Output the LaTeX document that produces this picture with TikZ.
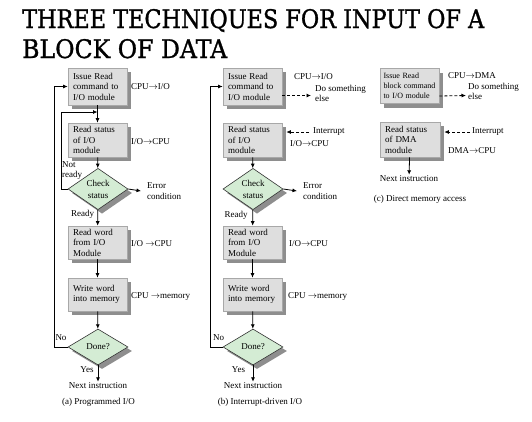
\documentclass[tikz,border=0pt]{standalone}
\usepackage{fontspec}
\setmainfont{Liberation Serif}
\newfontfamily\titlefont[FakeBold=1.2]{DejaVu Serif}
\usetikzlibrary{shapes.geometric,arrows.meta,shadows}
\definecolor{boxfill}{HTML}{DEDEDE}
\definecolor{boxline}{HTML}{A8A8A8}
\definecolor{shadowc}{HTML}{8E8E8E}
\definecolor{decfill}{HTML}{D4ECD4}
\newcommand{\toarr}{\(\rightarrow\)}
\tikzset{
  shd/.style={drop shadow={shadow xshift=4pt, shadow yshift=-4pt, fill=shadowc, opacity=1}},
  box/.style={shd, draw=boxline, fill=boxfill, line width=0.6pt, minimum width=59pt,
    minimum height=35pt, text width=49pt, inner xsep=5pt, inner ysep=2pt, align=left,
    font=\fontsize{9}{10.5}\selectfont},
  smallbox/.style={box, text width=52pt, inner xsep=3.5pt, font=\fontsize{8}{10}\selectfont},
  dec/.style={shd, diamond, draw=black!80, fill=decfill, line width=0.6pt, inner sep=0pt,
    minimum width=60pt, minimum height=40pt, align=center, font=\fontsize{9}{12}\selectfont},
  lbl/.style={inner sep=0pt, align=left, font=\fontsize{9}{10.5}\selectfont},
  arr/.style={line width=0.8pt, -{Latex[length=4.5pt,width=4pt]}},
  darr/.style={arr, dash pattern=on 3pt off 2pt},
}
\begin{document}
\begin{tikzpicture}[x=1pt,y=-1pt]
\useasboundingbox (0,0) rectangle (532,421);
\fill[white] (0,0) rectangle (532,421);
% title
\node[anchor=base west, inner sep=0pt] (t1) at (22,28) {\resizebox{462pt}{19pt}{\titlefont THREE TECHNIQUES FOR INPUT OF A}};
\node[anchor=base west, inner sep=0pt] (t2) at (22,58) {\resizebox{205pt}{19pt}{\titlefont BLOCK OF DATA}};

% ---------------- column A ----------------
\node[box, minimum height=37pt] (a1) at (97.5,86.5) {Issue Read\\command to\\I/O module};
\node[box, minimum height=34pt] (a2) at (97.5,140) {Read status\\of I/O\\module};
\node[dec] (a3) at (98,189) {Check\\status};
\node[box, minimum height=33pt] (a4) at (97.5,242.5) {Read word\\from I/O\\Module};
\node[box, minimum height=33pt] (a5) at (97.5,294.5) {Write word\\into memory};
\node[dec, minimum height=36pt] (a6) at (98,347) {Done?};
\node[lbl, anchor=west] (a1l) at (131,87) {CPU\toarr I/O};
\node[lbl, anchor=west] (a2l) at (131,142) {I/O\toarr CPU};
\node[lbl, anchor=west] (a4l) at (131,244) {I/O \toarr CPU};
\node[lbl, anchor=west] (a5l) at (131,296) {CPU \toarr memory};
\node[lbl, anchor=west, inner xsep=6pt] (aerr) at (141,191) {Error\\condition};
\node[lbl, anchor=west] (anr) at (62,170.5) {Not\\ready};
\node[lbl] (ardy) at (82.5,214) {Ready};
\node[lbl] (ano) at (61,338) {No};
\node[lbl] (ayes) at (87,370) {Yes};
\node[lbl, inner sep=1pt] (anext) at (98,386) {Next instruction};
\node[lbl] (acap) at (98.5,402) {(a) Programmed I/O};
\coordinate (anrc) at (61,112);
\coordinate (aloop) at (54,0);
\draw[arr] (a1) -- (a2);
\draw[arr] (a2) -- (a3);
\draw[arr] (a3) -- (a4);
\draw[arr] (a4) -- (a5);
\draw[arr] (a5) -- (a6);
\draw[arr] (a6) -- (anext);
\draw[arr] (a3.east) -- (aerr.west);
\draw[arr] (a3.west) -| (anrc) -- (anrc -| a1.south);
\draw[arr] (a6.west) -- (a6.west -| aloop) |- (a1.west);

% ---------------- column B ----------------
\node[box, minimum height=37pt] (b1) at (252.5,86.5) {Issue Read\\command to\\I/O module};
\node[box, minimum height=34pt] (b2) at (252.5,140) {Read status\\of I/O\\module};
\node[dec] (b3) at (253,189) {Check\\status};
\node[box, minimum height=33pt] (b4) at (252.5,242.5) {Read word\\from I/O\\Module};
\node[box, minimum height=33pt] (b5) at (252.5,294.5) {Write word\\into memory};
\node[dec, minimum height=36pt] (b6) at (253,347) {Done?};
\node[lbl, anchor=west] (b1l) at (294,77) {CPU\toarr I/O};
\node[lbl, anchor=west, inner xsep=4pt] (bdse) at (311,93.5) {Do something\\else};
\node[lbl, anchor=west, inner xsep=4pt] (bint) at (309,132) {Interrupt};
\node[lbl, anchor=west] (b2l) at (290,144) {I/O\toarr CPU};
\node[lbl, anchor=west] (b4l) at (289,244) {I/O\toarr CPU};
\node[lbl, anchor=west] (b5l) at (288,296) {CPU \toarr memory};
\node[lbl, anchor=west, inner xsep=6pt] (berr) at (297,191) {Error\\condition};
\node[lbl] (brdy) at (236,215) {Ready};
\node[lbl] (bno) at (218.5,338) {No};
\node[lbl] (byes) at (238.5,370) {Yes};
\node[lbl, inner sep=1pt] (bnext) at (253,386) {Next instruction};
\node[lbl] (bcap) at (260,402) {(b) Interrupt-driven I/O};
\coordinate (bloop) at (210,0);
\draw[darr] ([yshift=-9pt]b1.east) -- ([yshift=-2pt]bdse.west);
\draw[darr, shorten >=4pt] (bint.west) -- (bint.west -| b2.east);
\draw[arr] (b2) -- (b3);
\draw[arr] (b3) -- (b4);
\draw[arr] (b4) -- (b5);
\draw[arr] (b5) -- (b6);
\draw[arr] (b6) -- (bnext);
\draw[arr] (b3.east) -- (berr.west);
\draw[arr] (b6.west) -- (b6.west -| bloop) |- (b1.west);

% ---------------- column C ----------------
\node[smallbox, minimum height=35pt] (c1) at (409.5,86) {Issue Read\\block command\\to I/O module};
\node[box, minimum width=60pt, text width=50pt, minimum height=35pt] (c2) at (410,139.5) {Read status\\of DMA\\module};
\node[lbl, anchor=west] (c1l) at (448,76) {CPU\toarr DMA};
\node[lbl, anchor=west, inner xsep=2pt] (cdse) at (466,91.5) {Do something\\else};
\node[lbl, anchor=west, inner xsep=2pt] (cint) at (470,132) {Interrupt};
\node[lbl, anchor=west] (c2l) at (448,151) {DMA\toarr CPU};
\node[lbl, inner sep=1pt] (cnext) at (409,179) {Next instruction};
\node[lbl] (ccap) at (420,199) {(c) Direct memory access};
\draw[darr] ([yshift=-10pt]c1.east) -- ([yshift=-4pt]cdse.west);
\draw[darr, shorten >=4pt] (cint.west) -- (cint.west -| c2.east);
\draw[arr] (c2) -- (cnext);
\end{tikzpicture}
\end{document}
